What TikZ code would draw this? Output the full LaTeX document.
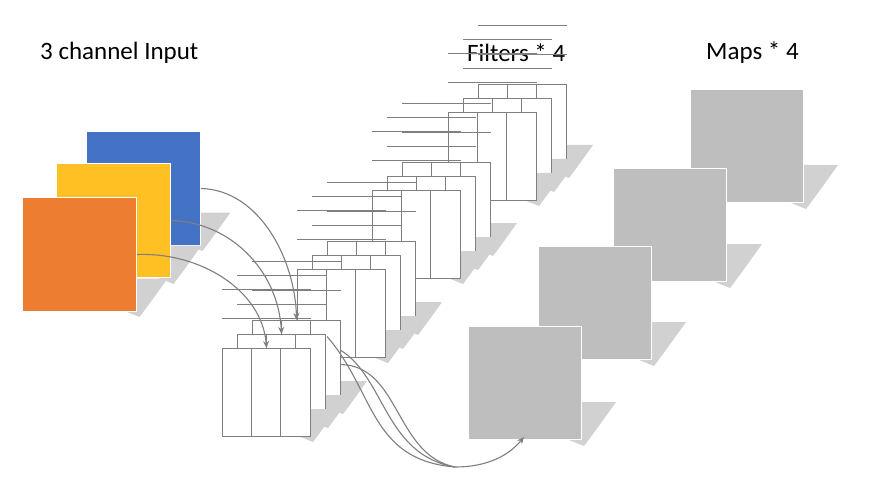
\documentclass[tikz,border=0pt]{standalone}
\usepackage{fontspec}
\setmainfont{Carlito}
\usetikzlibrary{arrows.meta,fadings}
\definecolor{cblue}{HTML}{4472C4}
\definecolor{cyel}{HTML}{FFC024}
\definecolor{cora}{HTML}{ED7D31}
\definecolor{cmap}{HTML}{BEBEBE}
\definecolor{cline}{HTML}{7F7F7F}
\tikzset{
 inp/.style={draw=white,line width=1pt,minimum size=114pt,inner sep=0pt,anchor=north west},
 filt/.style={draw=cline,fill=white,line width=1.1pt,minimum size=88pt,inner sep=0pt,anchor=north west},
 gridl/.style={cline,line width=1.1pt},
 map/.style={fill=cmap,draw=white,line width=1pt,minimum size=113pt,inner sep=0pt,anchor=north west},
 arr/.style={cline,line width=1.1pt,-{Stealth[length=7pt,width=6pt]}},
 ln/.style={cline,line width=1.1pt},
 lbl/.style={font=\fontsize{25}{28}\selectfont,anchor=west,inner sep=0pt},
 shad/.style={fill=black!25,path fading=east},
}
\newcommand\shadowat[3]{% x right, y bottom, size
 \fill[black!18] (#1-0.2*#3,#2) -- (#1,#2-0.45*#3) -- (#1+0.45*#3,#2-0.45*#3) .. controls (#1+0.2*#3,#2-0.1*#3) .. (#1+0.05*#3,#2+0.1*#3) -- cycle;}
\newcommand\filter[3]{%
 \shadowat{#2+88}{#3+88}{60}
 \node[filt] (#1) at (#2,#3) {};
 \foreach \k in {1,2}{
  \draw[gridl] ($(#1.north west)+(\k*29.33,0)$) -- ($(#1.south west)+(\k*29.33,0)$);
  \draw[gridl] ($(#1.north west)+(0,-\k*29.33)$) -- ($(#1.north east)+(0,-\k*29.33)$);}
}
\usetikzlibrary{calc}
\begin{document}
\begin{tikzpicture}[x=1pt,y=-1pt]
\useasboundingbox (0,0) rectangle (876,500);
\fill[white] (0,0) rectangle (876,500);
\node[lbl] (t1) at (40,53) {3 channel Input};
\node[lbl] (t2) at (467,53) {Filters * 4};
\node[lbl] (t3) at (706,53) {Maps * 4};
% inputs
\shadowat{199}{244}{70}
\node[inp,fill=cblue] (blue) at (86,131) {};
\shadowat{170}{277}{70}
\node[inp,fill=cyel] (yel) at (56,163) {};
\shadowat{136}{310}{70}
\node[inp,fill=cora] (ora) at (22,197) {};
% filters (back to front groups)
\foreach \g/\x/\y in {4/448/112,3/372/190,2/297/269,1/222/348}{
  \filter{f\g c}{\x+30}{\y-28}
  \filter{f\g b}{\x+15}{\y-14}
  \filter{f\g a}{\x}{\y}
}
% maps
\shadowat{802}{201}{80}
\node[map] (m4) at (690,89) {};
\shadowat{726}{280}{80}
\node[map] (m3) at (613,168) {};
\shadowat{650}{358}{80}
\node[map] (m2) at (538,246) {};
\shadowat{580}{438}{80}
\node[map] (m1) at (468,326) {};
% input arrows
\draw[arr] (blue.east) .. controls (260,190) and (295,260) .. (f1c.north);
\draw[arr] (yel.east) .. controls (230,222) and (278,270) .. (f1b.north);
\draw[arr] (ora.east) .. controls (200,252) and (262,290) .. (f1a.north);
% output arrows
\coordinate (mg) at (455,467);
\draw[ln] (f1c.east) .. controls (400,366) and (395,455) .. (mg);
\draw[ln] ([yshift=14pt]f1c.east) .. controls (385,378) and (385,455) .. (mg);
\draw[ln] ([xshift=-14pt,yshift=28pt]f1c.east) .. controls (375,392) and (370,460) .. (mg);
\draw[arr] (mg) .. controls (480,467) and (505,460) .. ([xshift=-1pt,yshift=3pt]m1.south);
\end{tikzpicture}
\end{document}
